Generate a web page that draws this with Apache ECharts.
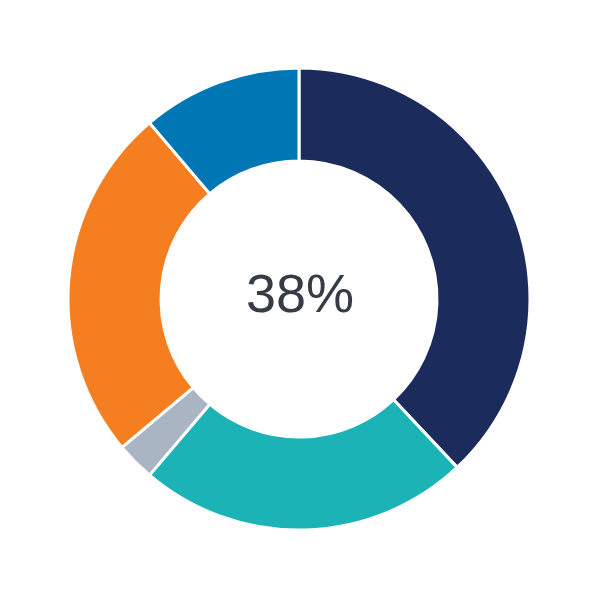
<!DOCTYPE html>
<html>
<head>
<meta charset="utf-8">
<script src="https://cdn.jsdelivr.net/npm/echarts@6/dist/echarts.min.js"></script>
<style>html,body{margin:0;padding:0;background:#fff}#c{width:600px;height:600px}</style>
</head>
<body>
<div id="c"></div>
<script>
var categories = ['A', 'B', 'C', 'D', 'E'];
var values = [38, 23.2, 2.7, 24.9, 11.2];
var colors = ['#1b2b5b', '#1bb3b6', '#aab5c3', '#f47e20', '#0077b5'];
var centerLabel = '38%';

var chart = echarts.init(document.getElementById('c'));
chart.setOption({
  animation: false,
  color: colors,
  graphic: [{
    type: 'text',
    x: 300,
    y: 297,
    style: {
      text: centerLabel,
      textAlign: 'center',
      textVerticalAlign: 'middle',
      fontFamily: 'Liberation Sans, Arial, sans-serif',
      fontSize: 54,
      fontWeight: 'normal',
      fill: '#353c46'
    }
  }],
  series: [{
    type: 'pie',
    center: [299, 299],
    radius: [138, 231],
    startAngle: 90,
    clockwise: true,
    label: { show: false },
    labelLine: { show: false },
    itemStyle: { borderColor: '#ffffff', borderWidth: 3 },
    emphasis: { disabled: true },
    data: categories.map(function (c, i) { return { name: c, value: values[i] }; })
  }]
});
</script>
</body>
</html>
